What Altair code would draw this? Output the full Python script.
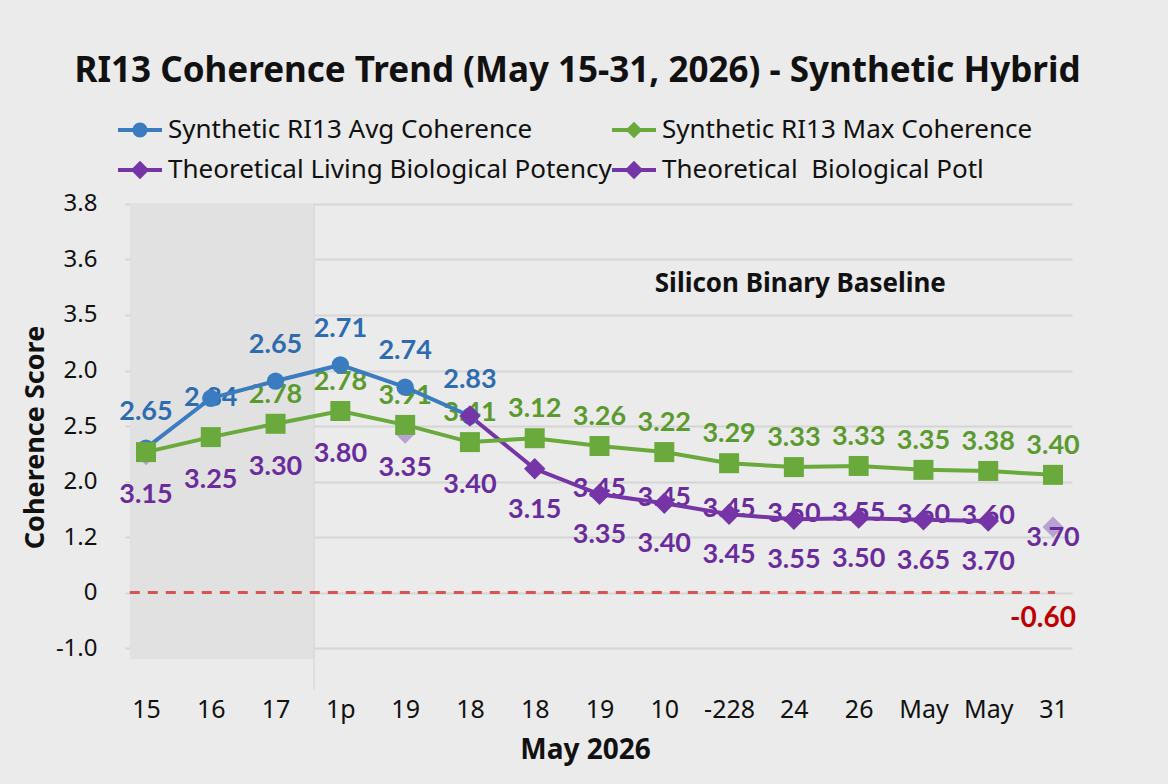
import json

import altair as alt
import pandas as pd

# ---- data -----------------------------------------------------------------
# x-axis day labels, one per sample position
day_labels = ["15", "16", "17", "1p", "19", "18", "18", "19", "10", "-228",
              "24", "26", "May", "May", "31"]
# y-axis labels, bottom to top, one per grid step
score_labels = ["-1.0", "0", "1.2", "2.0", "2.5", "2.0", "3.5", "3.6", "3.8"]

# series positions on the grid-step scale (None = no sample that day)
avg_coherence = [3.60, 4.50, 4.81, 5.10, 4.70, 4.18,
                 None, None, None, None, None, None, None, None, None]
max_coherence = [3.53, 3.80, 4.04, 4.27, 4.02, 3.71, 3.78, 3.64, 3.53,
                 3.33, 3.26, 3.28, 3.21, 3.19, 3.12]
living_potency = [None, None, None, None, None, 4.18, 3.23, 2.77, 2.61,
                  2.41, 2.32, 2.34, 2.31, 2.29, None]
bio_potl = [3.48, None, None, None, 3.87, None, None, None, None,
            None, None, None, None, None, 2.18]

# value labels printed next to the markers
avg_text = ["2.65", None, "2.65", "2.71", "2.74", "2.83",
            None, None, None, None, None, None, None, None, None]
avg_inline_text = [None, "2.84", None, None, None, None,
                   None, None, None, None, None, None, None, None, None]
max_text = [None, None, "2.78", "2.78", "3.91", "3.41", "3.12", "3.26",
            "3.22", "3.29", "3.33", "3.33", "3.35", "3.38", "3.40"]
living_early_text = ["3.15", "3.25", "3.30", "3.80", "3.35", "3.40",
                     None, None, None, None, None, None, None, None, None]
living_upper_text = [None, None, None, None, None, None, None, "3.45",
                     "3.45", "3.45", "3.50", "3.55", "3.60", "3.60", None]
living_lower_text = [None, None, None, None, None, None, "3.15", "3.35",
                     "3.40", "3.45", "3.55", "3.50", "3.65", "3.70", None]
potl_text = [None, None, None, None, None, None, None, None, None,
             None, None, None, None, None, "3.70"]

series_avg = "Synthetic RI13 Avg Coherence"
series_max = "Synthetic RI13 Max Coherence"
series_living = "Theoretical Living Biological Potency"
series_potl = "Theoretical\u00a0 Biological Potl"

baseline_value = 1          # grid step of the "0" line
baseline_text = "-0.60"
baseline_note = "Silicon Binary Baseline"

# ---- styling ----------------------------------------------------------------
BG = "#ebebeb"
BAND = "#e1e1e1"
GRID = "#d5d5d5"
BLUE, BLUE_TXT = "#3a7cbf", "#2d6cb0"
GREEN, GREEN_TXT = "#6aaa3c", "#5a9a2e"
PURPLE, PURPLE_TXT = "#7535a6", "#6a2c9c"
LAVENDER = "#a58bc7"
FONT = "Noto Sans"
NUM_FONT = "Lato"
NUM_SIZE = 27

N = len(day_labels)
table = pd.DataFrame({
    "idx": list(range(N)),
    "avg": avg_coherence,
    "max": max_coherence,
    "living": living_potency,
    "potl": bio_potl,
    "avg_text": avg_text,
    "avg_inline_text": avg_inline_text,
    "max_text": max_text,
    "living_early_text": living_early_text,
    "living_upper_text": living_upper_text,
    "living_lower_text": living_lower_text,
    "potl_text": potl_text,
})

x_scale = alt.Scale(domain=[-0.324, 14.293], nice=False, zero=False)
y_scale = alt.Scale(domain=[-0.36, 8.144], nice=False, zero=False)

x_axis = alt.Axis(
    values=list(range(N)),
    labelExpr=f"{json.dumps(day_labels)}[round(datum.value)]",
    grid=False, domain=False, ticks=False, tickSize=0,
    labelFont=FONT, labelFontSize=25, labelColor="#111111", labelPadding=29,
    labelFlush=False, labelOverlap=False,
    title="May 2026", titleFont=FONT, titleFontSize=28, titleFontWeight="bold",
    titleColor="#111111", titleX=460, titleY=82, titleBaseline="middle",
)
y_axis = alt.Axis(
    values=list(range(len(score_labels))),
    labelExpr=f"{json.dumps(score_labels)}[round(datum.value)]",
    grid=True, gridColor=GRID, gridWidth=2, domain=False, ticks=False,
    tickSize=0, labelFont=FONT, labelFontSize=24, labelColor="#111111",
    labelPadding=28, labelOverlap=False,
    title="Coherence Score", titleFont=FONT, titleFontSize=27,
    titleFontWeight="bold", titleColor="#111111", titleX=-90, titleY=241,
    titleBaseline="middle",
)


def X(field):
    return alt.X(field, type="quantitative", scale=x_scale, axis=x_axis)


def Y(field):
    return alt.Y(field, type="quantitative", scale=y_scale, axis=y_axis)


base = alt.Chart(table)

# shaded opening window
band = alt.Chart(pd.DataFrame({"x0": [-0.25], "x1": [2.595], "y0": [8.0], "y1": [-0.2]})).mark_rect(
    color=BAND
).encode(x=X("x0"), x2="x1", y=Y("y0"), y2="y1")
band_edge = alt.Chart(pd.DataFrame({"x0": [2.595], "y0": [8.0], "y1": [-0.75]})).mark_rule(
    color="#dadada", strokeWidth=1.5
).encode(x=X("x0"), y=Y("y0"), y2="y1")

# dashed zero reference
zero_line = alt.Chart(pd.DataFrame({"x0": [-0.25], "x1": [14.03], "y0": [baseline_value]})).mark_rule(
    color="#d65454", strokeWidth=3, strokeDash=[10, 8]
).encode(x=X("x0"), x2="x1", y=Y("y0"))

zero_label = alt.Chart(pd.DataFrame({"x0": [N - 1], "y0": [baseline_value], "t": [baseline_text]})).mark_text(
    font=NUM_FONT, fontSize=28, fontWeight="bold", color="#c00000", dx=-10, dy=26
).encode(x=X("x0"), y=Y("y0"), text="t:N")

note = alt.Chart(pd.DataFrame({"x0": [10.1], "y0": [6.56], "t": [baseline_note]})).mark_text(
    font=FONT, fontSize=26, fontWeight="bold", color="#111111"
).encode(x=X("x0"), y=Y("y0"), text="t:N")


def labels(anchor, text_field, color, dy):
    return base.transform_filter(f"isValid(datum.{text_field})").mark_text(
        font=NUM_FONT, fontSize=NUM_SIZE, fontWeight="bold", color=color, dy=dy
    ).encode(x=X("idx"), y=Y(anchor), text=f"{text_field}:N")


def line(field, color):
    return base.transform_filter(f"isValid(datum.{field})").mark_line(
        color=color, strokeWidth=4
    ).encode(x=X("idx"), y=Y(field))


def points(field, color, shape, size, opacity=1.0):
    return base.transform_filter(f"isValid(datum.{field})").mark_point(
        filled=True, color=color, shape=shape, size=size, opacity=opacity
    ).encode(x=X("idx"), y=Y(field))


# legend carrier: line-and-marker glyphs for each series
# (entries fill the two legend columns top to bottom)
LINE = "M-1,-0.09H1V0.09H-1Z"
CIRCLE = "M0.34,0A0.34,0.34,0,1,1,-0.34,0A0.34,0.34,0,1,1,0.34,0Z"
DIAMOND_S = "M0,-0.38L0.38,0L0,0.38L-0.38,0Z"
DIAMOND = "M0,-0.42L0.42,0L0,0.42L-0.42,0Z"
legend_order = [series_avg, series_living, series_max, series_potl]
legend_colors = [BLUE, PURPLE, GREEN, PURPLE]
legend_shapes = [LINE + CIRCLE, LINE + DIAMOND, LINE + DIAMOND_S, LINE + DIAMOND]
legend_def = alt.Legend(
    title=None, orient="none", legendX=-7, legendY=-88, columns=2,
    symbolSize=1936, symbolStrokeWidth=0, symbolOpacity=1,
    labelFont=FONT, labelFontSize=26, labelColor="#111111", labelOffset=6,
    labelLimit=800, rowPadding=5, columnPadding=-2, padding=0,
)
legend_layer = alt.Chart(pd.DataFrame({"series": legend_order})).mark_point(
    filled=True, opacity=0
).encode(
    x=alt.value(0), y=alt.value(0),
    color=alt.Color("series:N", scale=alt.Scale(domain=legend_order, range=legend_colors),
                    legend=legend_def, sort=legend_order),
    shape=alt.Shape("series:N", scale=alt.Scale(domain=legend_order, range=legend_shapes),
                    legend=legend_def, sort=legend_order),
)

chart = alt.layer(
    band, band_edge, zero_line, zero_label, note,
    points("potl", LAVENDER, "diamond", 440, 0.75),
    labels("avg", "avg_text", BLUE_TXT, -36),
    labels("avg", "avg_inline_text", BLUE_TXT, 0),
    labels("max", "max_text", GREEN_TXT, -29),
    labels("max", "living_early_text", PURPLE_TXT, 43),
    labels("living", "living_upper_text", PURPLE_TXT, -5),
    labels("living", "living_lower_text", PURPLE_TXT, 41),
    labels("potl", "potl_text", PURPLE_TXT, 11),
    line("living", PURPLE),
    line("avg", BLUE),
    line("max", GREEN),
    points("avg", BLUE, "circle", 300),
    points("max", GREEN, "square", 400),
    points("living", PURPLE, "diamond", 460),
    legend_layer,
).properties(
    width=947, height=472,
    autosize=alt.AutoSizeParams(type="none"),
    padding={"left": 125, "top": 196, "right": 96, "bottom": 116},
    title=alt.TitleParams(
        "RI13 Coherence Trend (May 15-31, 2026) - Synthetic Hybrid",
        font=FONT, fontSize=35, fontWeight="bold", color="#111111",
        anchor="middle", frame="group", dx=-21, offset=19,
    ),
).configure(background=BG).configure_view(stroke=None)

chart.save("out.html", embed_options={"renderer": "svg", "actions": False})
